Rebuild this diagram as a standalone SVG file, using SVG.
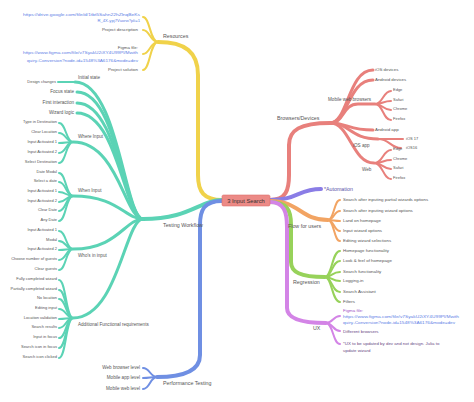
<svg xmlns="http://www.w3.org/2000/svg" width="474" height="402" viewBox="0 0 474 402">
<style>
text{font-family:"Liberation Sans",Arial,sans-serif;fill:#555;}
.lf{font-size:4px;}
.lr{font-size:4.4px;}
.sn{font-size:4.6px;}
.mn{font-size:5.3px;}
.url{fill:#5d80e6;font-size:4.2px;}
.e{text-anchor:end;}
path{fill:none;stroke-linecap:round;}
.y{stroke:#f0d24a;}
.t{stroke:#5bd3b5;}
.b{stroke:#6f8fe3;}
.s{stroke:#e8807c;}
.p{stroke:#8a7de6;}
.o{stroke:#f2a463;}
.g{stroke:#97d25a;}
.k{stroke:#d384e6;}
.w1{stroke-width:4;}
.w2{stroke-width:3;}
.w3{stroke-width:2;}
</style>
<rect width="474" height="402" fill="#ffffff"/>
<g id="connectors">
<!-- main branches -->
<path class="y w1" d="M222,200 C204,200 198,192 198,175 L198,75 C198,52 185,42 158,42"/>
<path class="t w1" d="M222,200 C200,200 190,219 143,219"/>
<path class="b w1" d="M222,201 C204,201 200,210 200,225 L200,355 C200,370 185,377 157,377"/>
<path class="s w1" d="M270,200 C286,200 289,190 289,175 L289,145 C289,130 300,123 330,123"/>
<path class="p w1" d="M270,200 C298,200 298,189 321,189"/>
<path class="o w1" d="M270,201 C300,201 300,220 328,220"/>
<path class="g w1" d="M270,202 C287,202 291,210 291,225 L291,262 C291,272 300,277 325,277"/>
<path class="k w1" d="M270,202 C284,202 287,212 287,227 L287,308 C287,318 300,323 326,323"/>
<!-- resources leaves -->
<path class="y w3" d="M158,42 C150,42 150,17 143,17"/>
<path class="y w3" d="M158,42 C150,42 150,30 143,30"/>
<path class="y w3" d="M158,42 C150,42 150,54 143,54"/>
<path class="y w3" d="M158,42 C150,42 150,70 143,70"/>
<!-- testing workflow -->
<path class="t w2" d="M143,219 C125,219 118,82 75,82"/>
<path class="t w3" d="M75,82 L58,82"/>
<path class="t w2" d="M143,219 C125,219 118,92 77,92"/>
<path class="t w2" d="M143,219 C125,219 118,103 77,103"/>
<path class="t w2" d="M143,219 C125,219 118,113 77,113"/>
<path class="t w2" d="M143,219 C125,219 118,142 73,142"/>
<path class="t w2" d="M143,219 C125,219 118,196 73,196"/>
<path class="t w2" d="M143,219 C125,219 118,249 73,249"/>
<path class="t w2" d="M143,219 C125,219 118,318 73,318"/>
<path class="t w3" d="M73,142 C66,142 66,123 59,123"/>
<path class="t w3" d="M73,142 C66,142 66,133 59,133"/>
<path class="t w3" d="M73,142 C66,142 66,143 59,143"/>
<path class="t w3" d="M73,142 C66,142 66,153 59,153"/>
<path class="t w3" d="M73,142 C66,142 66,163 59,163"/>
<path class="t w3" d="M73,196 C66,196 66,173 59,173"/>
<path class="t w3" d="M73,196 C66,196 66,182 59,182"/>
<path class="t w3" d="M73,196 C66,196 66,192 59,192"/>
<path class="t w3" d="M73,196 C66,196 66,202 59,202"/>
<path class="t w3" d="M73,196 C66,196 66,211 59,211"/>
<path class="t w3" d="M73,196 C66,196 66,221 59,221"/>
<path class="t w3" d="M73,249 C66,249 66,231 59,231"/>
<path class="t w3" d="M73,249 C66,249 66,241 59,241"/>
<path class="t w3" d="M73,249 C66,249 66,250 59,250"/>
<path class="t w3" d="M73,249 C66,249 66,260 59,260"/>
<path class="t w3" d="M73,249 C66,249 66,270 59,270"/>
<path class="t w3" d="M73,318 C66,318 66,280 59,280"/>
<path class="t w3" d="M73,318 C66,318 66,290 59,290"/>
<path class="t w3" d="M73,318 C66,318 66,299 59,299"/>
<path class="t w3" d="M73,318 C66,318 66,309 59,309"/>
<path class="t w3" d="M73,318 C66,318 66,319 59,319"/>
<path class="t w3" d="M73,318 C66,318 66,328 59,328"/>
<path class="t w3" d="M73,318 C66,318 66,338 59,338"/>
<path class="t w3" d="M73,318 C66,318 66,348 59,348"/>
<path class="t w3" d="M73,318 C66,318 66,358 59,358"/>
<!-- performance -->
<path class="b w3" d="M157,377 C150,377 150,368 143,368"/>
<path class="b w3" d="M157,377 C150,377 150,378 143,378"/>
<path class="b w3" d="M157,377 C150,377 150,389 143,389"/>
<!-- browsers/devices -->
<path class="s w2" d="M330,123 C348,123 348,70 373,70"/>
<path class="s w2" d="M330,123 C348,123 348,80 373,80"/>
<path class="s w2" d="M330,123 C345,123 342,104 358,104 L375,104"/>
<path class="s w2" d="M330,123 C348,123 348,130 373,130"/>
<path class="s w2" d="M330,123 C350,123 350,139 378,139"/>
<path class="s w2" d="M330,123 C350,123 352,163 374,163"/>
<path class="s w3" d="M375,104 C383,104 383,91 391,91"/>
<path class="s w3" d="M375,104 C383,104 383,101 391,101"/>
<path class="s w3" d="M375,104 C383,104 383,110 391,110"/>
<path class="s w3" d="M375,104 C383,104 383,120 391,120"/>
<path class="s w3" d="M378,139 L403,139"/>
<path class="s w3" d="M378,139 C390,139 390,148 401,148"/>
<path class="s w3" d="M374,163 C383,163 383,150 391,150"/>
<path class="s w3" d="M374,163 C383,163 383,160 391,160"/>
<path class="s w3" d="M374,163 C383,163 383,169 391,169"/>
<path class="s w3" d="M374,163 C383,163 383,179 391,179"/>
<!-- flow for users -->
<path class="o w3" d="M328,220 C334,220 334,200 340,200"/>
<path class="o w3" d="M328,220 C334,220 334,211 340,211"/>
<path class="o w3" d="M328,220 C334,220 334,221 340,221"/>
<path class="o w3" d="M328,220 C334,220 334,231 340,231"/>
<path class="o w3" d="M328,220 C334,220 334,241 340,241"/>
<!-- regression -->
<path class="g w3" d="M325,277 C332,277 332,251 340,251"/>
<path class="g w3" d="M325,277 C332,277 332,261 340,261"/>
<path class="g w3" d="M325,277 C332,277 332,272 340,272"/>
<path class="g w3" d="M325,277 C332,277 332,281 340,281"/>
<path class="g w3" d="M325,277 C332,277 332,292 340,292"/>
<path class="g w3" d="M325,277 C332,277 332,302 340,302"/>
<!-- UX -->
<path class="k w3" d="M326,323 C333,323 333,316 340,316"/>
<path class="k w3" d="M326,323 C333,323 333,331 340,331"/>
<path class="k w3" d="M326,323 C333,323 333,344 340,344"/>
</g>

<g id="center">
<rect x="222" y="195" width="48" height="11" rx="1.5" fill="#ec8a86" stroke="#dd6f6b" stroke-width="0.6"/>
<text x="246" y="202.6" text-anchor="middle" style="font-size:5.8px;fill:#333">3 Input Search</text>
</g>

<g id="resources">
<text class="mn" x="163" y="37.9">Resources</text>
<g id="res-drive"><text class="url e" x="140" y="15.5" textLength="117" lengthAdjust="spacingAndGlyphs">https://drive.google.com/file/d/1tbt5Sahn22hZlnqBeKs</text><text class="url e" x="140" y="21.5">R_4X-ypj7Vuorw?pli=1</text></g>
<g id="res-desc"><text class="lr e" x="138" y="30.6">Project description</text></g>
<g id="res-figma"><text class="lr e" x="138" y="48.6">Figma file:</text><text class="url e" x="138" y="54.3" textLength="115" lengthAdjust="spacingAndGlyphs">https://www.figma.com/file/v7SyakU2iXY4U99Pl/Mwith</text><text class="url e" x="138" y="61.5" textLength="111" lengthAdjust="spacingAndGlyphs">quiry-Conversion?node-id=1548%3A6176&amp;mode=dev</text></g>
<g id="res-sol"><text class="lr e" x="138" y="70.6">Project solution</text></g>
</g>

<g id="testing">
<text class="mn" x="163" y="227">Testing Workflow</text>
<g id="initial"><text class="sn" x="78" y="78.6">Initial state</text><text class="lf e" x="56" y="83.4">Design changes</text></g>
<g id="focus"><text class="sn e" x="74" y="92.6">Focus state</text></g>
<g id="first"><text class="sn e" x="74" y="103.6">First interaction</text></g>
<g id="wizard"><text class="sn e" x="74" y="113.6">Wizard logic</text></g>
<g id="where">
<text class="sn" x="78" y="137.6">Where Input</text>
<text class="lf e" x="57" y="123.4">Type in Destination</text>
<text class="lf e" x="57" y="133.4">Clear Location</text>
<text class="lf e" x="57" y="143.4">Input Activated 1</text>
<text class="lf e" x="57" y="153.4">Input Activated 2</text>
<text class="lf e" x="57" y="163.4">Select Destination</text>
</g>
<g id="when">
<text class="sn" x="78" y="191.6">When Input</text>
<text class="lf e" x="57" y="173.4">Date Modal</text>
<text class="lf e" x="57" y="182.4">Select a date</text>
<text class="lf e" x="57" y="192.4">Input Activated 1</text>
<text class="lf e" x="57" y="202.4">Input Activated 2</text>
<text class="lf e" x="57" y="211.4">Clear Date</text>
<text class="lf e" x="57" y="221.4">Any Date</text>
</g>
<g id="who">
<text class="sn" x="78" y="256.6">Who's in input</text>
<text class="lf e" x="57" y="231.4">Input Activated 1</text>
<text class="lf e" x="57" y="241.4">Modal</text>
<text class="lf e" x="57" y="250.4">Input Activated 2</text>
<text class="lf e" x="57" y="260.4">Choose number of guests</text>
<text class="lf e" x="57" y="270.4">Clear guests</text>
</g>
<g id="additional">
<text class="sn" x="78" y="325.6">Additional Functional requirements</text>
<text class="lf e" x="57" y="280.4">Fully completed wizard</text>
<text class="lf e" x="57" y="290.4">Partially completed wizard</text>
<text class="lf e" x="57" y="299.4">No location</text>
<text class="lf e" x="57" y="309.4">Editing input</text>
<text class="lf e" x="57" y="319.4">Location validation</text>
<text class="lf e" x="57" y="328.4">Search results</text>
<text class="lf e" x="57" y="338.4">Input in focus</text>
<text class="lf e" x="57" y="348.4">Search icon in focus</text>
<text class="lf e" x="57" y="358.4">Search icon clicked</text>
</g>
</g>

<g id="performance">
<text class="mn" x="163" y="384.8">Performance Testing</text>
<text class="sn e" x="140" y="368.6">Web browser level</text>
<text class="sn e" x="140" y="378.6">Mobile app level</text>
<text class="sn e" x="140" y="389.6">Mobile web level</text>
</g>

<g id="browsers">
<text class="mn" x="277" y="119.8">Browsers/Devices</text>
<g id="ios-dev"><text class="lr" x="375" y="70.5">iOS devices</text></g>
<g id="android-dev"><text class="lr" x="375" y="80.5">Android devices</text></g>
<g id="mweb">
<text class="sn" x="328" y="100.6">Mobile web browsers</text>
<text class="lf" x="393" y="91.4">Edge</text>
<text class="lf" x="393" y="101.4">Safari</text>
<text class="lf" x="393" y="110.4">Chrome</text>
<text class="lf" x="393" y="120.4">Firefox</text>
</g>
<g id="android-app"><text class="lr" x="375" y="130.5">Android app</text></g>
<g id="ios-app">
<text class="sn" x="353" y="146.6">iOS app</text>
<text class="lf" x="406" y="140.4">iOS 17</text>
<text class="lf" x="406" y="149.4">iOS16</text>
</g>
<g id="web">
<text class="sn" x="362" y="170.6">Web</text>
<text class="lf" x="393" y="150.4">Edge</text>
<text class="lf" x="393" y="160.4">Chrome</text>
<text class="lf" x="393" y="169.4">Safari</text>
<text class="lf" x="393" y="179.4">Firefox</text>
</g>
</g>

<g id="automation"><text class="mn" x="324" y="190.8" style="fill:#5a50a8">*Automation</text></g>

<g id="flow">
<text class="mn" x="288" y="227.8">Flow for users</text>
<text class="lr" x="343" y="200.5">Search after inputing partial wizards options</text>
<text class="lr" x="343" y="211.5">Search after inputing wizard options</text>
<text class="lr" x="343" y="221.5">Land on homepage</text>
<text class="lr" x="343" y="231.5">Input wizard options</text>
<text class="lr" x="343" y="241.5">Editing wizard selections</text>
</g>

<g id="regression">
<text class="mn" x="293" y="283.8">Regression</text>
<text class="lr" x="343" y="251.5">Homepage functionality</text>
<text class="lr" x="343" y="261.5">Look &amp; feel of homepage</text>
<text class="lr" x="343" y="272.5">Search functionality</text>
<text class="lr" x="343" y="281.5">Logging-in</text>
<text class="lr" x="343" y="292.5">Search Assistant</text>
<text class="lr" x="343" y="302.5">Filters</text>
</g>

<g id="ux">
<text class="mn" x="313" y="329.8">UX</text>
<g id="ux-figma"><text class="lr" x="343" y="311.5" style="fill:#a052c4">Figma file:</text><text class="url" x="343" y="317.5" textLength="116" lengthAdjust="spacingAndGlyphs">https://www.figma.com/file/v7SyakU2iXY4U99Pl/Mwith</text><text class="url" x="343" y="323.5" textLength="112" lengthAdjust="spacingAndGlyphs">quiry-Conversion?node-id=1548%3A6176&amp;mode=dev</text></g>
<g id="ux-browsers"><text class="lr" x="343" y="332.5" style="fill:#6a4a86">Different browsers</text></g>
<g id="ux-note"><text class="lr" x="343" y="344.5" style="fill:#6a4a86">*UX to be updated by dev and not design. Julia to</text><text class="lr" x="343" y="351.5" style="fill:#6a4a86">update wizard</text></g>
</g>
</svg>
